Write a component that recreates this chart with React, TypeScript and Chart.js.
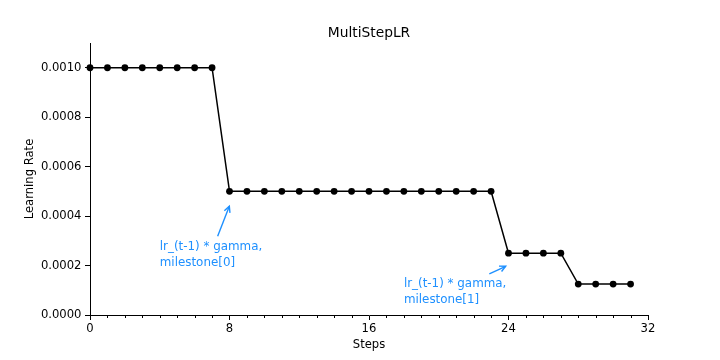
import { useEffect, useRef } from 'react';
import { Chart, registerables } from 'chart.js';
Chart.register(...registerables);

const steps = [0, 1, 2, 3, 4, 5, 6, 7, 8, 9, 10, 11, 12, 13, 14, 15, 16, 17, 18, 19, 20, 21, 22, 23, 24, 25, 26, 27, 28, 29, 30, 31];
const learningRates = [
  0.001, 0.001, 0.001, 0.001, 0.001, 0.001, 0.001, 0.001,
  0.0005, 0.0005, 0.0005, 0.0005, 0.0005, 0.0005, 0.0005, 0.0005,
  0.0005, 0.0005, 0.0005, 0.0005, 0.0005, 0.0005, 0.0005, 0.0005,
  0.00025, 0.00025, 0.00025, 0.00025,
  0.000125, 0.000125, 0.000125, 0.000125,
];
const xTicks = [0, 8, 16, 24, 32];
const yTicks = [0, 0.0002, 0.0004, 0.0006, 0.0008, 0.001];
const annotationLines = [
  ['lr_(t-1) * gamma,', 'milestone[0]'],
  ['lr_(t-1) * gamma,', 'milestone[1]'],
];
// [x, y] in data coordinates
const annotationTextAt = [[4, 0.0002], [18, 0.00005]];
const annotationTail = [[7.32, 0.000318], [22.9, 0.000166]];
const annotationTip = [[7.99, 0.00044], [23.84, 0.000197]];

const FONT = '"DejaVu Sans", sans-serif';
const BLUE = '#1E90FF';
const FS = 11.6;

export default function App() {
  const ref = useRef<HTMLCanvasElement | null>(null);
  useEffect(() => {
    if (!ref.current) return;
    const overlay = {
      id: 'overlay',
      afterDraw(chart: any) {
        const { ctx, chartArea, scales } = chart;
        const xs = scales.x, ys = scales.y;
        ctx.save();
        // title
        ctx.fillStyle = '#000';
        ctx.font = `13.8px ${FONT}`;
        ctx.textAlign = 'center';
        ctx.textBaseline = 'alphabetic';
        ctx.fillText('MultiStepLR', (chartArea.left + chartArea.right) / 2, 37);
        // minor ticks on x
        ctx.strokeStyle = '#000';
        ctx.lineWidth = 1;
        for (let v = 0; v <= 32; v++) {
          if (xTicks.includes(v)) continue;
          const px = Math.round(xs.getPixelForValue(v)) + 0.5;
          ctx.beginPath();
          ctx.moveTo(px, chartArea.bottom);
          ctx.lineTo(px, chartArea.bottom + 3);
          ctx.stroke();
        }
        // annotations
        ctx.font = `11.9px ${FONT}`;
        ctx.textAlign = 'left';
        ctx.textBaseline = 'alphabetic';
        ctx.fillStyle = BLUE;
        ctx.strokeStyle = BLUE;
        ctx.lineWidth = 1.4;
        for (let i = 0; i < annotationLines.length; i++) {
          const lines = annotationLines[i];
          const tx = xs.getPixelForValue(annotationTextAt[i][0]);
          const ty = ys.getPixelForValue(annotationTextAt[i][1]);
          for (let j = 0; j < lines.length; j++) {
            ctx.fillText(lines[j], tx, ty - (lines.length - 1 - j) * 15.8);
          }
          const ax = xs.getPixelForValue(annotationTail[i][0]);
          const ay = ys.getPixelForValue(annotationTail[i][1]);
          const bx = xs.getPixelForValue(annotationTip[i][0]);
          const by = ys.getPixelForValue(annotationTip[i][1]);
          ctx.beginPath();
          ctx.moveTo(ax, ay);
          ctx.lineTo(bx, by);
          ctx.stroke();
          const ang = Math.atan2(by - ay, bx - ax);
          const hl = 6, hw = 3;
          const cx = bx - hl * Math.cos(ang), cy = by - hl * Math.sin(ang);
          const nx = -Math.sin(ang), ny = Math.cos(ang);
          ctx.beginPath();
          ctx.moveTo(cx + nx * hw, cy + ny * hw);
          ctx.lineTo(bx, by);
          ctx.lineTo(cx - nx * hw, cy - ny * hw);
          ctx.stroke();
        }
        ctx.restore();
      },
    };
    const chart = new Chart(ref.current, {
      type: 'line',
      data: {
        datasets: [
          {
            data: steps.map((s, i) => ({ x: s, y: learningRates[i] })),
            borderColor: '#000',
            backgroundColor: '#000',
            borderWidth: 1.5,
            pointRadius: 3.4,
            pointBorderWidth: 0,
            pointHoverRadius: 3.4,
            tension: 0,
            clip: false as any,
          },
        ],
      },
      options: {
        animation: false,
        responsive: false,
        devicePixelRatio: 1,
        layout: { padding: { top: 43, right: 72, left: 0, bottom: 0 } },
        plugins: { legend: { display: false }, tooltip: { enabled: false }, title: { display: false } },
        events: [],
        scales: {
          x: {
            type: 'linear',
            min: 0,
            max: 32,
            afterBuildTicks: (s: any) => { s.ticks = xTicks.map((v) => ({ value: v })); },
            afterFit: (s: any) => { s.height = 45; },
            ticks: { color: '#000', font: { family: FONT, size: FS }, padding: 2, maxRotation: 0, autoSkip: false, callback: (v: any) => String(v) },
            grid: { drawOnChartArea: false, tickLength: 5, tickColor: '#000' },
            border: { color: '#000', width: 1 },
            title: { display: true, text: 'Steps', color: '#000', font: { family: FONT, size: FS }, padding: { top: 0, bottom: 8.5 } },
          },
          y: {
            type: 'linear',
            min: 0,
            max: 0.0011,
            afterBuildTicks: (s: any) => { s.ticks = yTicks.map((v) => ({ value: v })); },
            afterFit: (s: any) => { s.width = 90; },
            ticks: { color: '#000', font: { family: FONT, size: FS }, padding: 3.5, callback: (v: any) => Number(v).toFixed(4) },
            grid: { drawOnChartArea: false, tickLength: 5, tickColor: '#000' },
            border: { color: '#000', width: 1 },
            title: { display: true, text: 'Learning Rate', color: '#000', font: { family: FONT, size: FS }, padding: { top: 23, bottom: 0 } },
          },
        },
      } as any,
      plugins: [overlay],
    });
    return () => chart.destroy();
  }, []);
  return (
    <div style={{ position: 'absolute', left: 0, top: 0, width: 720, height: 360, background: '#fff' }}>
      <canvas ref={ref} width={720} height={360} style={{ width: 720, height: 360 }} />
    </div>
  );
}
